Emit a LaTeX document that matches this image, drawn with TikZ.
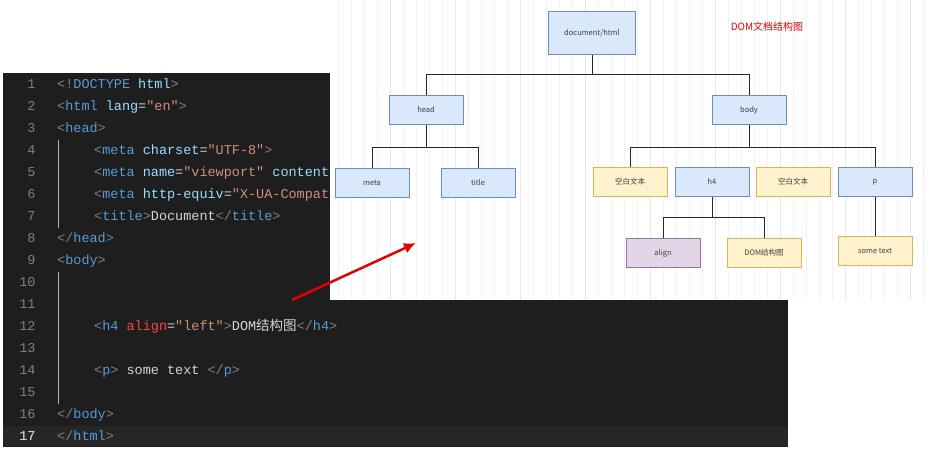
\documentclass[tikz,border=0pt]{standalone}
\usetikzlibrary{arrows.meta}
\usepackage{fontspec}
\setmainfont{Liberation Sans}
\newfontfamily\cjk{Noto Sans CJK SC}
\newfontfamily\code{Liberation Mono}
\definecolor{ed}{HTML}{1E1E1E}
\definecolor{tg}{HTML}{569CD6}
\definecolor{pu}{HTML}{808080}
\definecolor{at}{HTML}{9CDCFE}
\definecolor{st}{HTML}{CE9178}
\definecolor{tx}{HTML}{D4D4D4}
\definecolor{rd}{HTML}{F44747}
\definecolor{bf}{HTML}{DAE8FC}\definecolor{bd}{HTML}{6C8EBF}
\definecolor{yf}{HTML}{FFF2CC}\definecolor{yd}{HTML}{D6B656}
\definecolor{pf}{HTML}{E1D5E7}\definecolor{pd}{HTML}{9673A6}
\newcommand\tg[1]{\textcolor{tg}{#1}}
\newcommand\pu[1]{\textcolor{pu}{#1}}
\newcommand\at[1]{\textcolor{at}{#1}}
\newcommand\st[1]{\textcolor{st}{#1}}
\newcommand\tx[1]{\textcolor{tx}{#1}}
\begin{document}
\begin{tikzpicture}[x=1pt,y=-1pt,
  box/.style={draw=bd,fill=bf,line width=1pt,minimum width=74pt,minimum height=29pt,inner sep=0pt,font=\fontsize{7.5}{9}\selectfont\cjk,text=black!75},
  yb/.style={box,draw=yd,fill=yf},
  pb/.style={box,draw=pd,fill=pf},
  ln/.style={font=\code\fontsize{13.5}{14}\selectfont,anchor=base east,text=pu},
  cl/.style={font=\code\fontsize{13.5}{14}\selectfont,anchor=base west,inner sep=0pt},
  tr/.style={line width=1pt,black!85}]
\useasboundingbox (0,0) rectangle (931,451);
\fill[white] (0,0) rectangle (931,451);
% editor
\fill[ed] (3,73) rectangle (788,447);
\fill[black!85!white] (3,426) rectangle (788,446);
\foreach \i in {1,...,17}{\node[ln] (n\i) at (39,{88+22*(\i-1)}) {\i};}
\node[ln,text=tx] at (39,{88+22*16}) {17};
\draw[pu!60] (58,140) -- (58,228);
\draw[pu!60] (58,272) -- (58,404);
\node[cl] (c1) at (57,88) {\pu{<!}\tg{DOCTYPE} \at{html}\pu{>}};
\node[cl] (c2) at (57,110) {\pu{<}\tg{html} \at{lang}\tx{=}\st{"en"}\pu{>}};
\node[cl] (c3) at (57,132) {\pu{<}\tg{head}\pu{>}};
\node[cl] (c4) at (94,154) {\pu{<}\tg{meta} \at{charset}\tx{=}\st{"UTF-8"}\pu{>}};
\node[cl] (c5) at (94,176) {\pu{<}\tg{meta} \at{name}\tx{=}\st{"viewport"} \at{content}};
\node[cl] (c6) at (94,198) {\pu{<}\tg{meta} \at{http-equiv}\tx{=}\st{"X-UA-Compatible"}};
\node[cl] (c7) at (94,220) {\pu{<}\tg{title}\pu{>}\tx{Document}\pu{</}\tg{title}\pu{>}};
\node[cl] (c8) at (57,242) {\pu{</}\tg{head}\pu{>}};
\node[cl] (c9) at (57,264) {\pu{<}\tg{body}\pu{>}};
\node[cl] (c12) at (94,330) {\pu{<}\tg{h4} \textcolor{rd}{align}\tx{=}\st{"left"}\pu{>}\tx{DOM{\cjk 结构图}}\pu{</}\tg{h4}\pu{>}};
\node[cl] (c14) at (94,374) {\pu{<}\tg{p}\pu{>} \tx{some text} \pu{</}\tg{p}\pu{>}};
\node[cl] (c16) at (57,418) {\pu{</}\tg{body}\pu{>}};
\node[cl] (c17) at (57,440) {\pu{</}\tg{html}\pu{>}};
% diagram panel
\fill[white] (330,0) rectangle (930,300);
\draw[black!5,step=13] (330,0) grid (930,300);
\draw[black!9,step=65] (330,0) grid (930,300);
\node[box] (doc) at (592,33) [minimum width=87pt,minimum height=43pt] {document/html};
\node[box] (head) at (426,110) {head};
\node[box] (body) at (749,110) {body};
\node[box] (meta) at (372,183) {meta};
\node[box] (title) at (478,183) {title};
\node[yb] (k1) at (630,182) {空白文本};
\node[box] (h4) at (712,182) {h4};
\node[yb] (k2) at (793,182) {空白文本};
\node[box] (p) at (875,182) {p};
\node[pb] (align) at (663,253) {align};
\node[yb] (dom) at (764,253) {DOM结构图};
\node[yb] (some) at (875,251) {some text};
\node[text=red!90!black,font=\cjk\fontsize{10}{12}\selectfont] (ttl) at (767,27) {DOM文档结构图};
\draw[tr] (doc.south) -- ++(0,19) -| (head.north);
\draw[tr] (doc.south) -- ++(0,19) -| (body.north);
\draw[tr] (head.south) -- ++(0,22) -| (meta.north);
\draw[tr] (head.south) -- ++(0,22) -| (title.north);
\draw[tr] (body.south) -- ++(0,22) -| (k1.north);
\draw[tr] (body.south) -- ++(0,22) -| (p.north);
\draw[tr] (h4.south) -- ++(0,20) -| (align.north);
\draw[tr] (h4.south) -- ++(0,20) -| (dom.north);
\draw[tr] (p) -- (some);
% arrow
\coordinate (a0) at (292,300);
\coordinate (a1) at (416,243);
\draw[red!90!black,line width=2.5pt,-{Latex[length=12pt,width=11pt]}] (a0) -- (a1);
\end{tikzpicture}
\end{document}
